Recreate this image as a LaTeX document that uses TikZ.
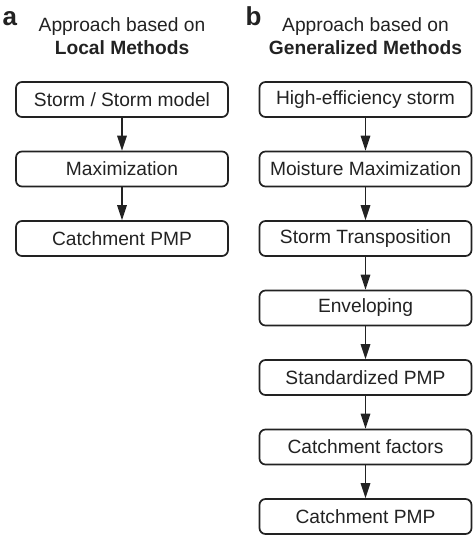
\documentclass[tikz,border=0pt]{standalone}
\usepackage{fontspec}
\setmainfont{Liberation Sans}
\usetikzlibrary{positioning,arrows.meta}

\definecolor{inkgray}{HTML}{222222}

\tikzset{
  procbox/.style={draw=inkgray, line width=1.7pt, rounded corners=6pt,
    minimum width=212pt, minimum height=35pt, inner sep=0pt,
    text=inkgray, font=\fontsize{19.2}{23}\selectfont},
  headtext/.style={anchor=base, text=inkgray, font=\fontsize{19.2}{23}\selectfont},
  panellabel/.style={anchor=base west, text=inkgray, font=\fontsize{26}{30}\selectfont\bfseries},
  flow/.style={draw=inkgray, line width=1.5pt,
    -{Triangle[length=15pt,width=9.5pt]}}
}

\begin{document}
\begin{tikzpicture}[x=1pt, y=1pt, node distance=32.8pt]

  \useasboundingbox (0,0) rectangle (474,-535);

  % Panel letters and headings
  \node[panellabel] (laba) at (-1,-26) {a};
  \node[panellabel] (labb) at (242,-26) {b};
  \node[headtext] (heada) at (122,-32) {Approach based on};
  \node[headtext] (headaa) at (122,-55) {\bfseries Local Methods};
  \node[headtext] (headb) at (365.5,-32) {Approach based on};
  \node[headtext] (headbb) at (365.5,-55) {\bfseries Generalized Methods};

  % Left column: local methods
  \node[procbox] (storm) at (122,-99.5) {Storm / Storm model};
  \node[procbox, below=of storm] (maxim) {Maximization};
  \node[procbox, below=of maxim] (pmpa) {Catchment PMP};

  \draw[flow] (storm) -- (maxim);
  \draw[flow] (maxim) -- (pmpa);

  % Right column: generalized methods
  \node[procbox] (hestorm) at (365.5,-99.5) {High-efficiency storm};
  \node[procbox, below=of hestorm] (moist) {Moisture Maximization};
  \node[procbox, below=of moist] (transp) {Storm Transposition};
  \node[procbox, below=of transp] (envel) {Enveloping};
  \node[procbox, below=of envel] (stdpmp) {Standardized PMP};
  \node[procbox, below=of stdpmp] (factors) {Catchment factors};
  \node[procbox, below=of factors] (pmpb) {Catchment PMP};

  \draw[flow] (hestorm) -- (moist);
  \draw[flow] (moist) -- (transp);
  \draw[flow] (transp) -- (envel);
  \draw[flow] (envel) -- (stdpmp);
  \draw[flow] (stdpmp) -- (factors);
  \draw[flow] (factors) -- (pmpb);

\end{tikzpicture}
\end{document}
